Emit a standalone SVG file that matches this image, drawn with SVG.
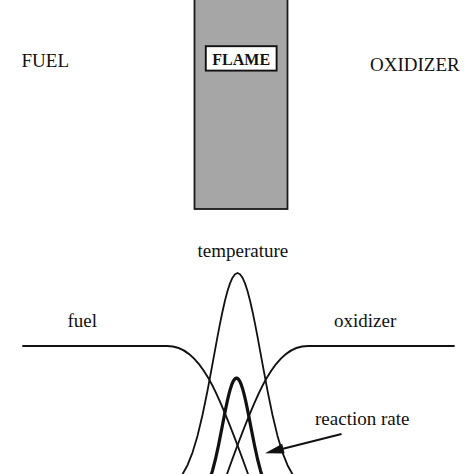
<svg xmlns="http://www.w3.org/2000/svg" width="474" height="474" viewBox="0 0 474 474">
<style>
  .lbl { font-family: "Liberation Serif", "Times New Roman", serif; font-size: 19px; fill: #111; }
  .curve { fill: none; stroke: #111; stroke-width: 1.8; stroke-linejoin: round; stroke-linecap: round; }
  .thick { fill: none; stroke: #111; stroke-width: 3.2; stroke-linejoin: round; stroke-linecap: round; }
</style>
<rect width="474" height="474" fill="#ffffff"/>
<g id="flame-zone">
  <rect x="194.5" y="-3" width="93" height="212" fill="#a6a6a6" stroke="#1a1a1a" stroke-width="1.8"/>
</g>
<g id="flame-label">
  <rect x="205.8" y="46.2" width="70.8" height="24.4" fill="#ffffff" stroke="#111" stroke-width="1.9"/>
  <text x="241.2" y="65" text-anchor="middle" style="font-family:'Liberation Serif','Times New Roman',serif;font-size:16px;font-weight:bold;fill:#111">FLAME</text>
</g>
<g id="fuel-top"><text class="lbl" x="21.5" y="67">FUEL</text></g>
<g id="oxidizer-top"><text class="lbl" x="370" y="71">OXIDIZER</text></g>
<g id="temperature-label"><text class="lbl" x="197.5" y="257">temperature</text></g>
<g id="fuel-label"><text class="lbl" x="67.5" y="327">fuel</text></g>
<g id="oxidizer-label"><text class="lbl" x="334" y="327">oxidizer</text></g>
<g id="reaction-label"><text class="lbl" x="315" y="425">reaction rate</text></g>
<g id="curves">
  <path id="fuel-curve" class="curve" d="M23,346 L167,346 C200,346 218,390 248,474"/>
  <path id="oxidizer-curve" class="curve" d="M454,346 L308,346 C275,346 257,390 227,474"/>
  <polyline id="temperature-curve" class="curve" points="177.5,480.5 182.5,474.3 187.5,465.2 192.5,452.6 197.5,435.9 202.5,415 207.5,390.7 212.5,363.9 217.5,336.6 220,323.6 222.5,311.5 225,300.5 227.5,291 230,283.4 232.5,277.7 235,274.2 237.5,273 240,274.2 242.5,277.7 245,283.4 247.5,291 250,300.5 252.5,311.5 255,323.6 257.5,336.6 262.5,363.9 267.5,390.7 272.5,415 277.5,435.9 282.5,452.6 287.5,465.2 292.5,474.3 297.5,480.5"/>
  <polyline id="reaction-curve" class="thick" points="209.5,479.9 212.5,470.7 215.5,459 218.5,445.3 221.5,430.1 224.5,414.6 226,407.1 227.5,400.2 229,393.9 230.5,388.4 232,384 233.5,380.7 235,378.7 236.5,378 238,378.7 239.5,380.7 241,384 242.5,388.4 244,393.9 245.5,400.2 247,407.1 248.5,414.6 251.5,430.1 254.5,445.3 257.5,459 260.5,470.7 263.5,479.9"/>
</g>
<g id="connectors">
  <line x1="341.5" y1="434" x2="280" y2="449.5" stroke="#111" stroke-width="2"/>
  <polygon points="265,453.3 284.6,453.5 282.2,443.8" fill="#111"/>
</g>
</svg>
